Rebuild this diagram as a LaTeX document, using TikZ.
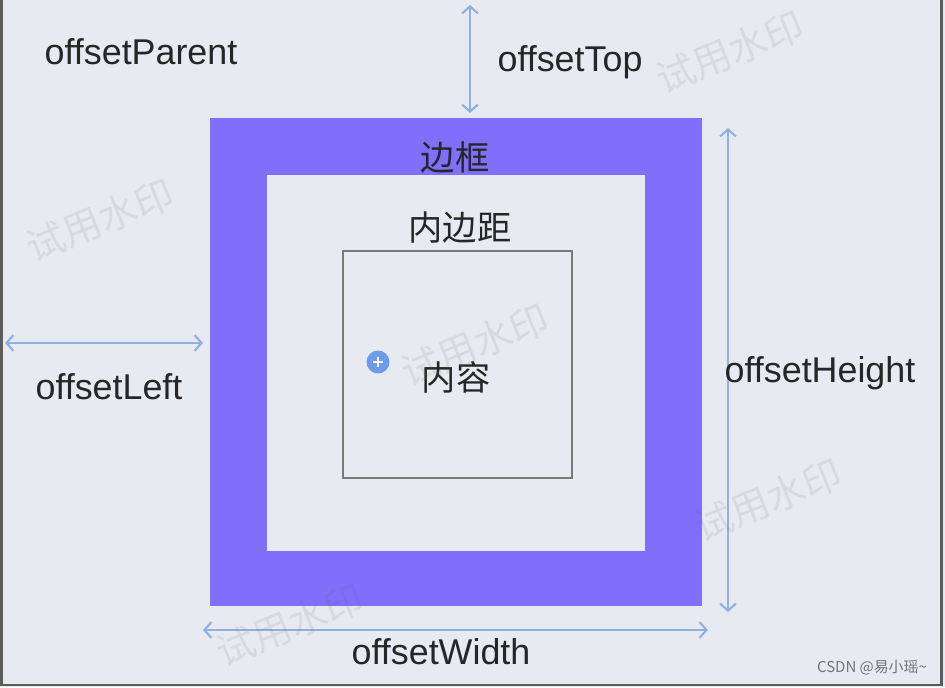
\documentclass[tikz,border=0pt]{standalone}
\usepackage{fontspec}
\setmainfont{Liberation Sans}
\newfontfamily\cjk{Noto Sans CJK SC}
\usetikzlibrary{arrows.meta}
\definecolor{bgcol}{HTML}{E8EAF1}
\definecolor{purplebox}{HTML}{7F6FFB}
\definecolor{arrowblue}{HTML}{8EB0E2}
\definecolor{framegray}{HTML}{5C5C5C}
\definecolor{boxgray}{HTML}{7A7A7A}
\definecolor{dotblue}{HTML}{6E9BE8}
\tikzset{
  dim/.style={draw=arrowblue, line width=1.2pt, {Straight Barb[length=4pt,width=9pt]}-{Straight Barb[length=4pt,width=9pt]}},
  lab/.style={text=black!85, inner sep=0pt, font=\fontsize{20.4}{24}\selectfont},
  cn/.style={text=black!85, inner sep=0pt, font=\cjk\fontsize{19.5}{24}\selectfont},
  wmark/.style={text=black!60, text opacity=0.12, inner sep=0pt, rotate=22, font=\cjk\fontsize{22}{26}\selectfont},
}

\begin{document}
\begin{tikzpicture}[x=0.02cm, y=-0.02cm]
    \useasboundingbox (0,0) rectangle (945,687);
    \fill[bgcol] (0,0) rectangle (945,687);
    % frame of the parent
    \draw[framegray, line width=1.6pt] (1.5,0)--(1.5,685)--(941.5,685)--(941.5,0);
    % border, padding and content
    \fill[purplebox] (210,118) rectangle (702,606);
    \fill[bgcol] (267,175) rectangle (645,551);
    \draw[boxgray, line width=1.1pt] (343,251) rectangle (572,478);
    \fill[dotblue] (378,362) circle (11.5);
    \draw[white, line width=1.1pt] (373,362)--(383,362) (378,357)--(378,367);
    % end points of the dimension lines
    \coordinate (T1) at (470,5);
    \coordinate (T2) at (470,113);
    \coordinate (L1) at (5,343);
    \coordinate (L2) at (203,343);
    \coordinate (H1) at (728,128);
    \coordinate (H2) at (728,612);
    \coordinate (W1) at (203,630);
    \coordinate (W2) at (708,630);
    \draw[dim] (T1)--(T2);
    \draw[dim] (L1)--(L2);
    \draw[dim] (H1)--(H2);
    \draw[dim] (W1)--(W2);
    % labels
    \node[lab] (parent) at (141,52) {offsetParent};
    \node[lab] (top) at (570,62) {offsetTop};
    \node[lab] (left) at (109,387) {offsetLeft};
    \node[lab] (height) at (820,373) {offsetHeight};
    \node[lab] (width) at (441,652) {offsetWidth};
    \node[cn] (border) at (455,157) {边框};
    \node[cn] (padding) at (460,228) {内边距};
    \node[cn] (content) at (456,377) {内容};
    \node[text=black!55, inner sep=0pt, font=\cjk\fontsize{8.5}{10}\selectfont] (csdn) at (872,668) {CSDN @易小瑶\textasciitilde};
    % watermarks on top
    \node[wmark] (w1) at (100,220) {试用水印};
    \node[wmark] (w2) at (730,52) {试用水印};
    \node[wmark] (w3) at (475,345) {试用水印};
    \node[wmark] (w4) at (768,500) {试用水印};
    \node[wmark] (w5) at (290,625) {试用水印};
\end{tikzpicture}
\end{document}
